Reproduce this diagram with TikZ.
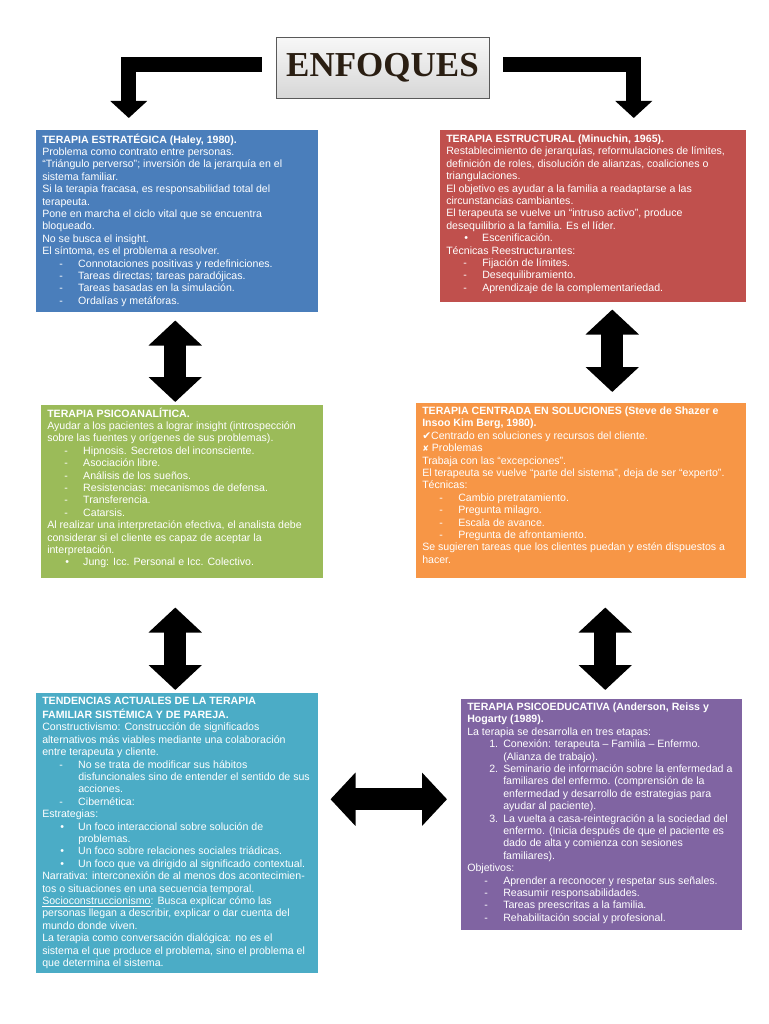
\documentclass[tikz,border=0pt]{standalone}
\usepackage{fontspec}
\setmainfont{Liberation Sans}
\newfontfamily\titlefont{Liberation Serif}
\newfontfamily\symfont{DejaVu Sans}
\usetikzlibrary{arrows.meta, shadows}

\definecolor{azul}{HTML}{4A7EBB}
\definecolor{rojo}{HTML}{C0504D}
\definecolor{verde}{HTML}{9BBB59}
\definecolor{naranja}{HTML}{F79646}
\definecolor{turquesa}{HTML}{4BACC6}
\definecolor{morado}{HTML}{8064A2}

% list lines
\newcommand{\dashit}[1]{{\leftskip=36pt\noindent\llap{\makebox[19pt][l]{-}}#1\par}}
\newcommand{\bulit}[1]{{\leftskip=36pt\noindent\llap{\makebox[18pt][l]{•}}#1\par}}
\newcommand{\numit}[2]{{\leftskip=36pt\noindent\llap{\makebox[14pt][l]{#1}}#2\par}}
\newcommand{\cardtext}[3]{\parbox[t][#1][t]{#2}{\raggedright\rightskip=-8pt plus 2em\strut#3}}

\begin{document}
\begin{tikzpicture}[x=1pt, y=-1pt]
  \tikzset{
    card/.style={fill=#1, draw=white, line width=2.5pt, anchor=north west,
      inner xsep=8pt, inner ysep=4.5pt, text=white,
      font=\fontsize{10.6}{12.4}\selectfont,
      drop shadow={shadow xshift=0.6pt, shadow yshift=-0.8pt, opacity=0.35}},
    elbow/.style={line width=15pt, line join=miter, -{Triangle[width=36pt,length=17pt]}},
    dbl/.style={line width=22pt, {Triangle[width=52pt,length=25pt]}-{Triangle[width=52pt,length=25pt]}}
  }
  \fill[white] (0,0) rectangle (768,1024);
  \useasboundingbox (0,0) rectangle (768,1024);

  % title
  \node [draw=gray!70!black, line width=0.8pt, top color=gray!6, bottom color=gray!32,
    minimum width=213pt, minimum height=61pt, inner sep=0pt,
    drop shadow={shadow xshift=0.8pt, shadow yshift=-0.8pt, opacity=0.3}] (title) at (382.5,68)
    {\titlefont\bfseries\fontsize{35}{35}\selectfont\color[HTML]{2A1E12}\raisebox{-3pt}{ENFOQUES}};

  % boxes
  \node [card=azul] (estrategica) at (33,128) {\cardtext{175pt}{269pt}{%
    \textbf{TERAPIA ESTRATÉGICA (Haley, 1980).}\\
    Problema como contrato entre personas.\\
    “Triángulo perverso”; inversión de la jerarquía en el\\
    sistema familiar.\\
    Si la terapia fracasa, es responsabilidad total del\\
    terapeuta.\\
    Pone en marcha el ciclo vital que se encuentra\\
    bloqueado.\\
    No se busca el insight.\\
    El síntoma, es el problema a resolver.\par
    \dashit{Connotaciones positivas y redefiniciones.}
    \dashit{Tareas directas; tareas paradójicas.}
    \dashit{Tareas basadas en la simulación.}
    \dashit{Ordalías y metáforas.}}};

  \node [card=rojo] (estructural) at (437,128) {\cardtext{165pt}{293pt}{%
    \textbf{TERAPIA ESTRUCTURAL (Minuchin, 1965).}\\
    Restablecimiento de jerarquías, reformulaciones de límites,\\
    definición de roles, disolución de alianzas, coaliciones o\\
    triangulaciones.\\
    El objetivo es ayudar a la familia a readaptarse a las\\
    circunstancias cambiantes.\\
    El terapeuta se vuelve un “intruso activo”, produce\\
    desequilibrio a la familia. Es el líder.\par
    \bulit{Escenificación.}
    Técnicas Reestructurantes:\par
    \dashit{Fijación de límites.}
    \dashit{Desequilibramiento.}
    \dashit{Aprendizaje de la complementariedad.}}};

  \node [card=verde] (psicoanalitica) at (38,402) {\cardtext{167pt}{269pt}{%
    \textbf{TERAPIA PSICOANALÍTICA.}\\
    Ayudar a los pacientes a lograr insight (introspección\\
    sobre las fuentes y orígenes de sus problemas).\par
    \dashit{Hipnosis. Secretos del inconsciente.}
    \dashit{Asociación libre.}
    \dashit{Análisis de los sueños.}
    \dashit{Resistencias: mecanismos de defensa.}
    \dashit{Transferencia.}
    \dashit{Catarsis.}
    Al realizar una interpretación efectiva, el analista debe\\
    considerar si el cliente es capaz de aceptar la\\
    interpretación.\par
    \bulit{Jung: Icc. Personal e Icc. Colectivo.}}};

  \node [card=naranja] (soluciones) at (413,400) {\cardtext{169pt}{317pt}{%
    \textbf{TERAPIA CENTRADA EN SOLUCIONES (Steve de Shazer e}\\
    \textbf{Insoo Kim Berg, 1980).}\\
    {\symfont ✔}Centrado en soluciones y recursos del cliente.\\
    {\symfont\fontsize{8}{10}\selectfont ✘} Problemas\\
    Trabaja con las “excepciones”.\\
    \mbox{El terapeuta se vuelve “parte del sistema”, deja de ser “experto”.}\\
    Técnicas:\par
    \dashit{Cambio pretratamiento.}
    \dashit{Pregunta milagro.}
    \dashit{Escala de avance.}
    \dashit{Pregunta de afrontamiento.}
    Se sugieren tareas que los clientes puedan y estén dispuestos a\\
    hacer.}};

  \node [card=turquesa] (tendencias) at (33,690) {\cardtext{274pt}{269pt}{%
    \textbf{TENDENCIAS ACTUALES DE LA TERAPIA}\\
    \textbf{FAMILIAR SISTÉMICA Y DE PAREJA.}\\
    Constructivismo: Construcción de significados\\
    alternativos más viables mediante una colaboración\\
    entre terapeuta y cliente.\par
    \dashit{No se trata de modificar sus hábitos\\
      disfuncionales sino de entender el sentido de sus\\
      acciones.}
    \dashit{Cibernética:}
    Estrategias:\par
    \bulit{Un foco interaccional sobre solución de\\ problemas.}
    \bulit{Un foco sobre relaciones sociales triádicas.}
    \bulit{Un foco que va dirigido al significado contextual.}
    Narrativa: interconexión de al menos dos acontecimien-\\
    tos o situaciones en una secuencia temporal.\\
    \underline{Socioconstruccionismo}: Busca explicar cómo las\\
    personas llegan a describir, explicar o dar cuenta del\\
    mundo donde viven.\\
    La terapia como conversación dialógica: no es el\\
    sistema el que produce el problema, sino el problema el\\
    que determina el sistema.}};

  \node [card=morado] (psicoeducativa) at (458,696) {\cardtext{225pt}{268pt}{%
    \textbf{TERAPIA PSICOEDUCATIVA (Anderson, Reiss y}\\
    \textbf{Hogarty (1989).}\\
    La terapia se desarrolla en tres etapas:\par
    \numit{1.}{Conexión: terapeuta – Familia – Enfermo.\\ (Alianza de trabajo).}
    \numit{2.}{Seminario de información sobre la enfermedad a\\
      familiares del enfermo. (comprensión de la\\
      enfermedad y desarrollo de estrategias para\\
      ayudar al paciente).}
    \numit{3.}{La vuelta a casa-reintegración a la sociedad del\\
      enfermo. (Inicia después de que el paciente es\\
      dado de alta y comienza con sesiones\\
      familiares).}
    Objetivos:\par
    \dashit{Aprender a reconocer y respetar sus señales.}
    \dashit{Reasumir responsabilidades.}
    \dashit{Tareas preescritas a la familia.}
    \dashit{Rehabilitación social y profesional.}}};

  % arrows
  \draw [elbow, shorten >=10pt] ([xshift=-14pt,yshift=3.5pt]title.west) -| ([xshift=-48pt]estrategica.north);
  \draw [elbow, shorten >=10pt] ([xshift=14pt,yshift=3.5pt]title.east) -| ([xshift=41pt]estructural.north);

  \draw [dbl] ([xshift=-1.5pt,yshift=-6pt]estrategica.south) -- ([xshift=-6.5pt]psicoanalitica.north);
  \draw [dbl] ([xshift=19.5pt,yshift=-5pt]estructural.south) -- ([xshift=31.5pt,yshift=8pt]soluciones.north);
  \draw [dbl] ([xshift=-6.5pt,yshift=-27pt]psicoanalitica.south) -- ([xshift=-1.5pt]tendencias.north);
  \draw [dbl] ([xshift=24.5pt,yshift=-27pt]soluciones.south) -- ([xshift=4pt,yshift=6pt]psicoeducativa.north);
  \draw [dbl] ([xshift=10pt,yshift=33.5pt]tendencias.east) -- ([xshift=-11pt,yshift=15pt]psicoeducativa.west);
\end{tikzpicture}
\end{document}
